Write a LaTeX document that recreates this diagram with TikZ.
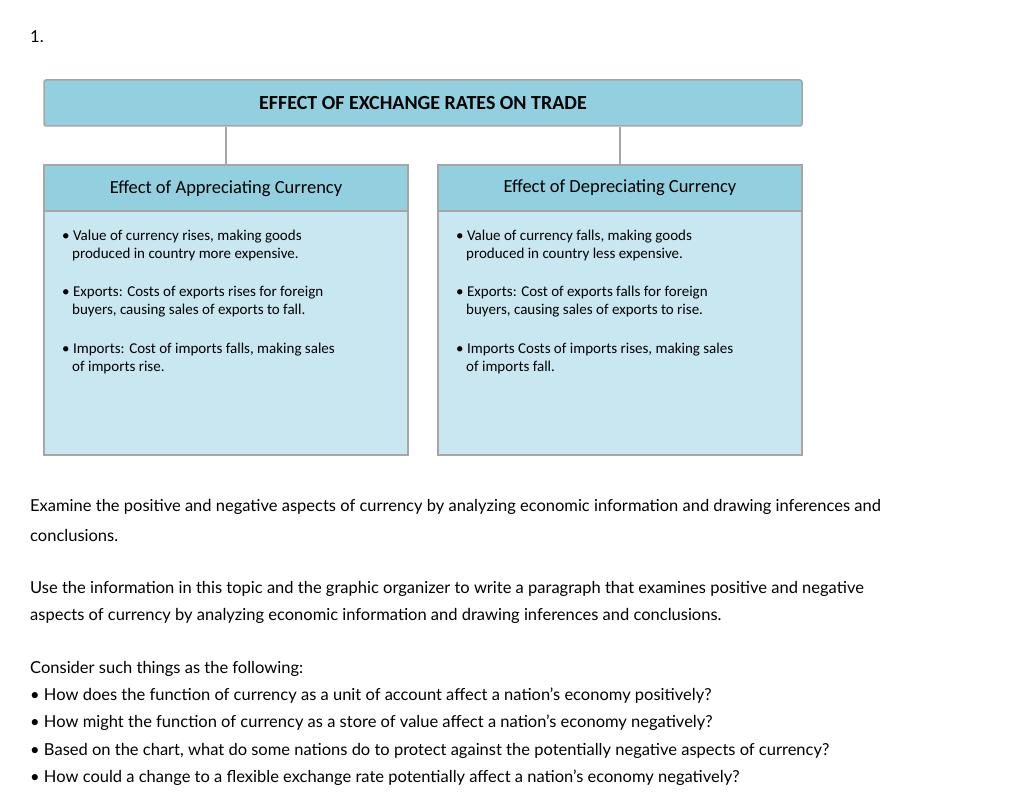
\documentclass[tikz,border=0pt]{standalone}
\usepackage{fontspec}
\setmainfont{Lato}
\newfontfamily\boxfont{Carlito}
\begin{document}
\begin{tikzpicture}[x=1pt,y=-1pt,
  hdr/.style={draw=gray!70,line width=1.5pt,fill={rgb,255:red,146;green,208;blue,224}},
  bod/.style={draw=gray!70,line width=1.5pt,fill={rgb,255:red,201;green,231;blue,240}},
  conn/.style={draw=gray!70,line width=2pt},
  bl/.style={anchor=west,font=\boxfont\fontsize{15}{18}\selectfont,align=left,inner sep=0pt},
  tx/.style={anchor=west,font=\fontsize{16.5}{20}\selectfont,inner sep=0pt}]
\useasboundingbox (0,0) rectangle (1024,794);
\node[tx] (num) at (30,37) {1.};
\draw[hdr,rounded corners=2pt] (44,80) rectangle (802,126);
\node[font=\boxfont\bfseries\fontsize{20}{24}\selectfont] (title) at (423,103) {EFFECT OF EXCHANGE RATES ON TRADE};
\coordinate (t1) at (226,127); \coordinate (t2) at (620,127);
\coordinate (h1) at (226,165); \coordinate (h2) at (620,165);
\draw[conn] (t1) -- (h1); \draw[conn] (t2) -- (h2);
\draw[bod] (44,211) rectangle (408,455);
\draw[hdr] (44,165) rectangle (408,211);
\draw[bod] (438,211) rectangle (802,455);
\draw[hdr] (438,165) rectangle (802,211);
\node[font=\boxfont\fontsize{18.5}{22}\selectfont] (lh) at (226,189) {Effect of Appreciating Currency};
\node[font=\boxfont\fontsize{18.5}{22}\selectfont] (rh) at (620,188) {Effect of Depreciating Currency};
\node[bl] (l1) at (62,246) {\textbullet\ Value of currency rises, making goods\\\hspace*{10pt}produced in country more expensive.};
\node[bl] (l2) at (62,302) {\textbullet\ Exports: Costs of exports rises for foreign\\\hspace*{10pt}buyers, causing sales of exports to fall.};
\node[bl] (l3) at (62,358) {\textbullet\ Imports: Cost of imports falls, making sales\\\hspace*{10pt}of imports rise.};
\node[bl] (r1) at (456,246) {\textbullet\ Value of currency falls, making goods\\\hspace*{10pt}produced in country less expensive.};
\node[bl] (r2) at (456,302) {\textbullet\ Exports: Cost of exports falls for foreign\\\hspace*{10pt}buyers, causing sales of exports to rise.};
\node[bl] (r3) at (456,358) {\textbullet\ Imports Costs of imports rises, making sales\\\hspace*{10pt}of imports fall.};
\node[tx] (p1) at (30,507) {Examine the positive and negative aspects of currency by analyzing economic information and drawing inferences and};
\node[tx] (p2) at (30,535) {conclusions.};
\node[tx] (p3) at (30,589) {Use the information in this topic and the graphic organizer to write a paragraph that examines positive and negative};
\node[tx] (p4) at (30,616) {aspects of currency by analyzing economic information and drawing inferences and conclusions.};
\node[tx] (p5) at (30,669) {Consider such things as the following:};
\node[tx] (p6) at (30,696) {\textbullet\ How does the function of currency as a unit of account affect a nation's economy positively?};
\node[tx] (p7) at (30,723) {\textbullet\ How might the function of currency as a store of value affect a nation's economy negatively?};
\node[tx] (p8) at (30,751) {\textbullet\ Based on the chart, what do some nations do to protect against the potentially negative aspects of currency?};
\node[tx] (p9) at (30,778) {\textbullet\ How could a change to a flexible exchange rate potentially affect a nation's economy negatively?};
\end{tikzpicture}
\end{document}
